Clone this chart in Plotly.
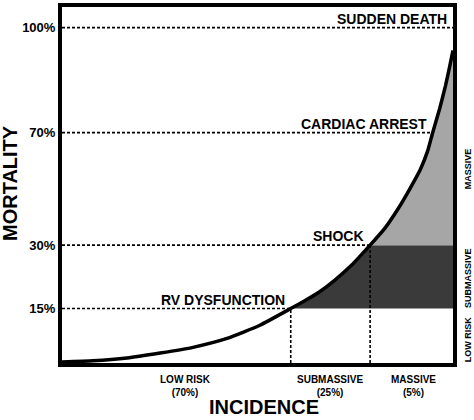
import numpy as np
import plotly.graph_objects as go

# schematic curve (incidence position vs mortality position, 0-100 on both axes)
curve_x = [0, 7.9, 16.6, 25.1, 33.5, 42.2, 50.6, 58.5, 62.1, 65.6, 69.8, 74.1,
           78.8, 82.6, 86.0, 89.0, 91.7, 93.5, 94.8, 96.6, 98.1, 99.2, 100]
curve_y = [0.3, 0.6, 1.4, 2.8, 4.4, 6.9, 10.6, 15.3, 17.5, 19.8, 23.3, 27.5,
           33.1, 37.9, 43.4, 49.0, 54.5, 59.5, 64.7, 71.5, 78.0, 83.5, 87.8]

# mortality levels and where they sit on the (non-linear) schematic axis
mortality_labels = ['15%', '30%', '70%', '100%']
mortality_pos = [15.3, 33.1, 64.7, 94.2]
event_labels = ['RV DYSFUNCTION', 'SHOCK', 'CARDIAC ARREST', 'SUDDEN DEATH']

# incidence groups
group_labels = ['LOW RISK', 'SUBMASSIVE', 'MASSIVE']
group_incidence = ['70%', '25%', '5%']
group_label_x = [31.7, 68.5, 89.8]
side_labels = ['LOW RISK', 'SUBMASSIVE', 'MASSIVE']
side_label_y = [6.4, 23.9, 54.4]

FONT = 'Liberation Sans, Arial, sans-serif'
LIGHT = '#a6a6a6'
DARK = '#3a3a3a'

cx = np.array(curve_x)
cy = np.array(curve_y)
i15 = curve_y.index(mortality_pos[0])
i30 = curve_y.index(mortality_pos[1])

fig = go.Figure()

# dark band (15% - 30%) between curve and right border
fig.add_trace(go.Scatter(
    x=list(cx[i15:i30 + 1]) + [100, 100],
    y=list(cy[i15:i30 + 1]) + [mortality_pos[1], mortality_pos[0]],
    fill='toself', fillcolor=DARK, mode='none', hoverinfo='skip'))

# light band (above 30%)
fig.add_trace(go.Scatter(
    x=list(cx[i30:]) + [100],
    y=list(cy[i30:]) + [mortality_pos[1]],
    fill='toself', fillcolor=LIGHT, mode='none', hoverinfo='skip'))

# dashed guide lines
dash = dict(color='black', width=1.6, dash='3px,2px')
for pos in mortality_pos:
    x_end = float(np.interp(pos, cy, cx))
    fig.add_shape(type='line', x0=0, x1=x_end, y0=pos, y1=pos, line=dash, layer='above')
for pos in mortality_pos[:2]:
    x_at = float(np.interp(pos, cy, cx))
    fig.add_shape(type='line', x0=x_at, x1=x_at, y0=0, y1=pos, line=dash, layer='above')

# curve
fig.add_trace(go.Scatter(
    x=curve_x, y=curve_y, mode='lines',
    line=dict(color='black', width=3.5, shape='spline', smoothing=0.5),
    hoverinfo='skip'))

# event labels above the dashed lines
for pos, label in zip(mortality_pos, event_labels):
    x_end = float(np.interp(pos, cy, cx))
    fig.add_annotation(x=x_end, y=pos, text=f'<b>{label}</b>', showarrow=False,
                       xanchor='right', yanchor='middle', xshift=-4, yshift=9,
                       font=dict(family=FONT, size=14, color='black'))

# incidence group labels under the x axis
for gx, label, inc in zip(group_label_x, group_labels, group_incidence):
    fig.add_annotation(x=gx, y=0, yref='paper', text=f'<b>{label}<br>({inc})</b>',
                       showarrow=False, xanchor='center', yanchor='middle', yshift=-23,
                       font=dict(family=FONT, size=10, color='black'))

# rotated group labels on the right
for sy, label in zip(side_label_y, side_labels):
    fig.add_annotation(x=1, xref='paper', y=sy, text=f'<b>{label}</b>', textangle=-90,
                       showarrow=False, xanchor='center', yanchor='middle', xshift=15,
                       font=dict(family=FONT, size=9, color='black'))

# axis titles
fig.add_annotation(x=0, xref='paper', y=0.5, yref='paper', text='<b>MORTALITY</b>',
                   textangle=-90, showarrow=False, xanchor='center', yanchor='middle',
                   xshift=-52, yshift=2, font=dict(family=FONT, size=20, color='black'))
fig.add_annotation(x=0.516, xref='paper', y=0, yref='paper', text='<b>INCIDENCE</b>',
                   showarrow=False, xanchor='center', yanchor='bottom', yshift=-57,
                   font=dict(family=FONT, size=20, color='black'))

fig.update_layout(
    width=474, height=420,
    margin=dict(l=62, r=21, t=3, b=57),
    plot_bgcolor='white', paper_bgcolor='white',
    showlegend=False,
    xaxis=dict(range=[0, 100], showgrid=False, zeroline=False, showticklabels=False,
               showline=True, mirror=True, linewidth=4, linecolor='black', ticks=''),
    yaxis=dict(range=[0, 100], showgrid=False, zeroline=False,
               tickvals=mortality_pos,
               ticktext=[f'<b>{t}</b>' for t in mortality_labels],
               tickfont=dict(family=FONT, size=13, color='black'),
               showline=True, mirror=True, linewidth=4, linecolor='black', ticks=''),
)

fig.write_html('out.html', config={'displayModeBar': False},
               post_script="document.body.style.margin='0';")
